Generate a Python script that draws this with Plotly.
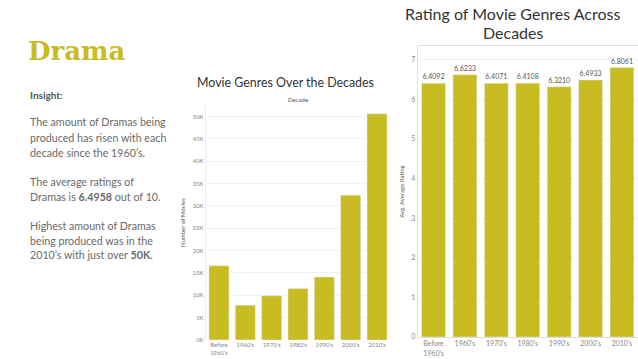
import plotly.graph_objects as go

# ---- data ----
decades = ["Before<br>1960's", "1960's", "1970's", "1980's", "1990's", "2000's", "2010's"]
movie_counts = [16600, 7800, 9900, 11500, 14100, 32400, 50600]
avg_ratings = [6.4092, 6.6233, 6.4071, 6.4108, 6.3210, 6.4933, 6.8061]
count_tick_vals = [0, 5000, 10000, 15000, 20000, 25000, 30000, 35000, 40000, 45000, 50000]
count_tick_text = ["0K", "5K", "10K", "15K", "20K", "25K", "30K", "35K", "40K", "45K", "50K"]
rating_tick_vals = [0, 1, 2, 3, 4, 5, 6, 7]

BAR = "#C8BC22"
W, H = 638, 359

def px_x(x):
    return x / W

def px_y(y):
    return 1 - y / H

fig = go.Figure()

fig.add_trace(go.Bar(
    x=decades, y=movie_counts, marker_color=BAR, xaxis="x", yaxis="y",
    showlegend=False, hoverinfo="x+y"))

fig.add_trace(go.Bar(
    x=decades, y=avg_ratings, marker_color=BAR, xaxis="x2", yaxis="y2",
    text=[f"{v:.4f}" for v in avg_ratings], textposition="outside",
    textfont=dict(size=7, color="#555"), cliponaxis=False,
    showlegend=False))

tick_font = dict(family="Lato, sans-serif", size=6, color="#888")

fig.update_layout(
    width=W, height=H,
    margin=dict(l=0, r=0, t=0, b=0, autoexpand=False),
    paper_bgcolor="white", plot_bgcolor="white",
    bargap=0.24,
    font=dict(family="Lato, sans-serif"),
    xaxis=dict(domain=[px_x(205.8), px_x(390.2)], anchor="y", automargin=False,
               tickfont=tick_font, showgrid=False, showline=False, ticks="",
               tickangle=0),
    yaxis=dict(domain=[px_y(340), px_y(105.3)], anchor="x", automargin=False,
               range=[0, 52500], tickvals=count_tick_vals, ticktext=count_tick_text,
               tickfont=tick_font, showgrid=True, gridcolor="#f2f2f2", gridwidth=1,
               showline=True, linecolor="#eeeeee", zeroline=False, ticks="",
               title=dict(text="Number of Movies", font=dict(size=6, color="#555"), standoff=6)),
    xaxis2=dict(domain=[px_x(417.8), px_x(637.7)], anchor="y2", automargin=False,
                tickfont=dict(family="Lato, sans-serif", size=7, color="#888"),
                showgrid=False, showline=True, linecolor="#dddddd", mirror=True,
                ticks="", tickangle=0),
    yaxis2=dict(domain=[px_y(337), px_y(46)], anchor="x2", automargin=False,
                range=[0, 7.35], tickvals=rating_tick_vals,
                tickfont=dict(family="Lato, sans-serif", size=7, color="#888"),
                showgrid=True, gridcolor="#f2f2f2", showline=True, linecolor="#dddddd",
                zeroline=False, ticks="",
                title=dict(text="Avg. Average Rating", font=dict(size=6, color="#555"), standoff=6)),
)

annotations = []

def txt(text, x, y, size, color="#666", xanchor="left", family="Lato, sans-serif"):
    annotations.append(dict(text=text, x=px_x(x), y=px_y(y), xref="paper", yref="paper",
                            xanchor=xanchor, yanchor="middle", showarrow=False,
                            font=dict(size=size, color=color, family=family)))

txt("<b>Drama</b>", 26, 51, 26, color="#C8BC22", family="DejaVu Serif, serif")
txt("<b>Insight:</b>", 28, 95, 10, color="#555")

lines = [
    ("The amount of Dramas being", 122),
    ("produced has risen with each", 137.5),
    ("decade since the 1960’s.", 152),
    ("The average ratings of", 181),
    ("Dramas is <b>6.4958</b> out of 10.", 196),
    ("Highest amount of Dramas", 225),
    ("being produced was in the", 240),
    ("2010’s with just over <b>50K</b>.", 254),
]
for t, y in lines:
    txt(t, 28, y, 10.7, color="#6a6a6a")

txt("Movie Genres Over the Decades", 285, 82, 12.4, color="#333", xanchor="center")
txt("Decade", 298, 99, 6, color="#555", xanchor="center")
txt("Rating of Movie Genres Across", 513, 13.5, 16, color="#333", xanchor="center")
txt("Decades", 513, 33, 16, color="#333", xanchor="center")

fig.update_layout(annotations=annotations)

fig.write_html("out.html", config={"displayModeBar": False},
               post_script="document.body.style.margin='0';document.body.style.overflow='hidden';")
